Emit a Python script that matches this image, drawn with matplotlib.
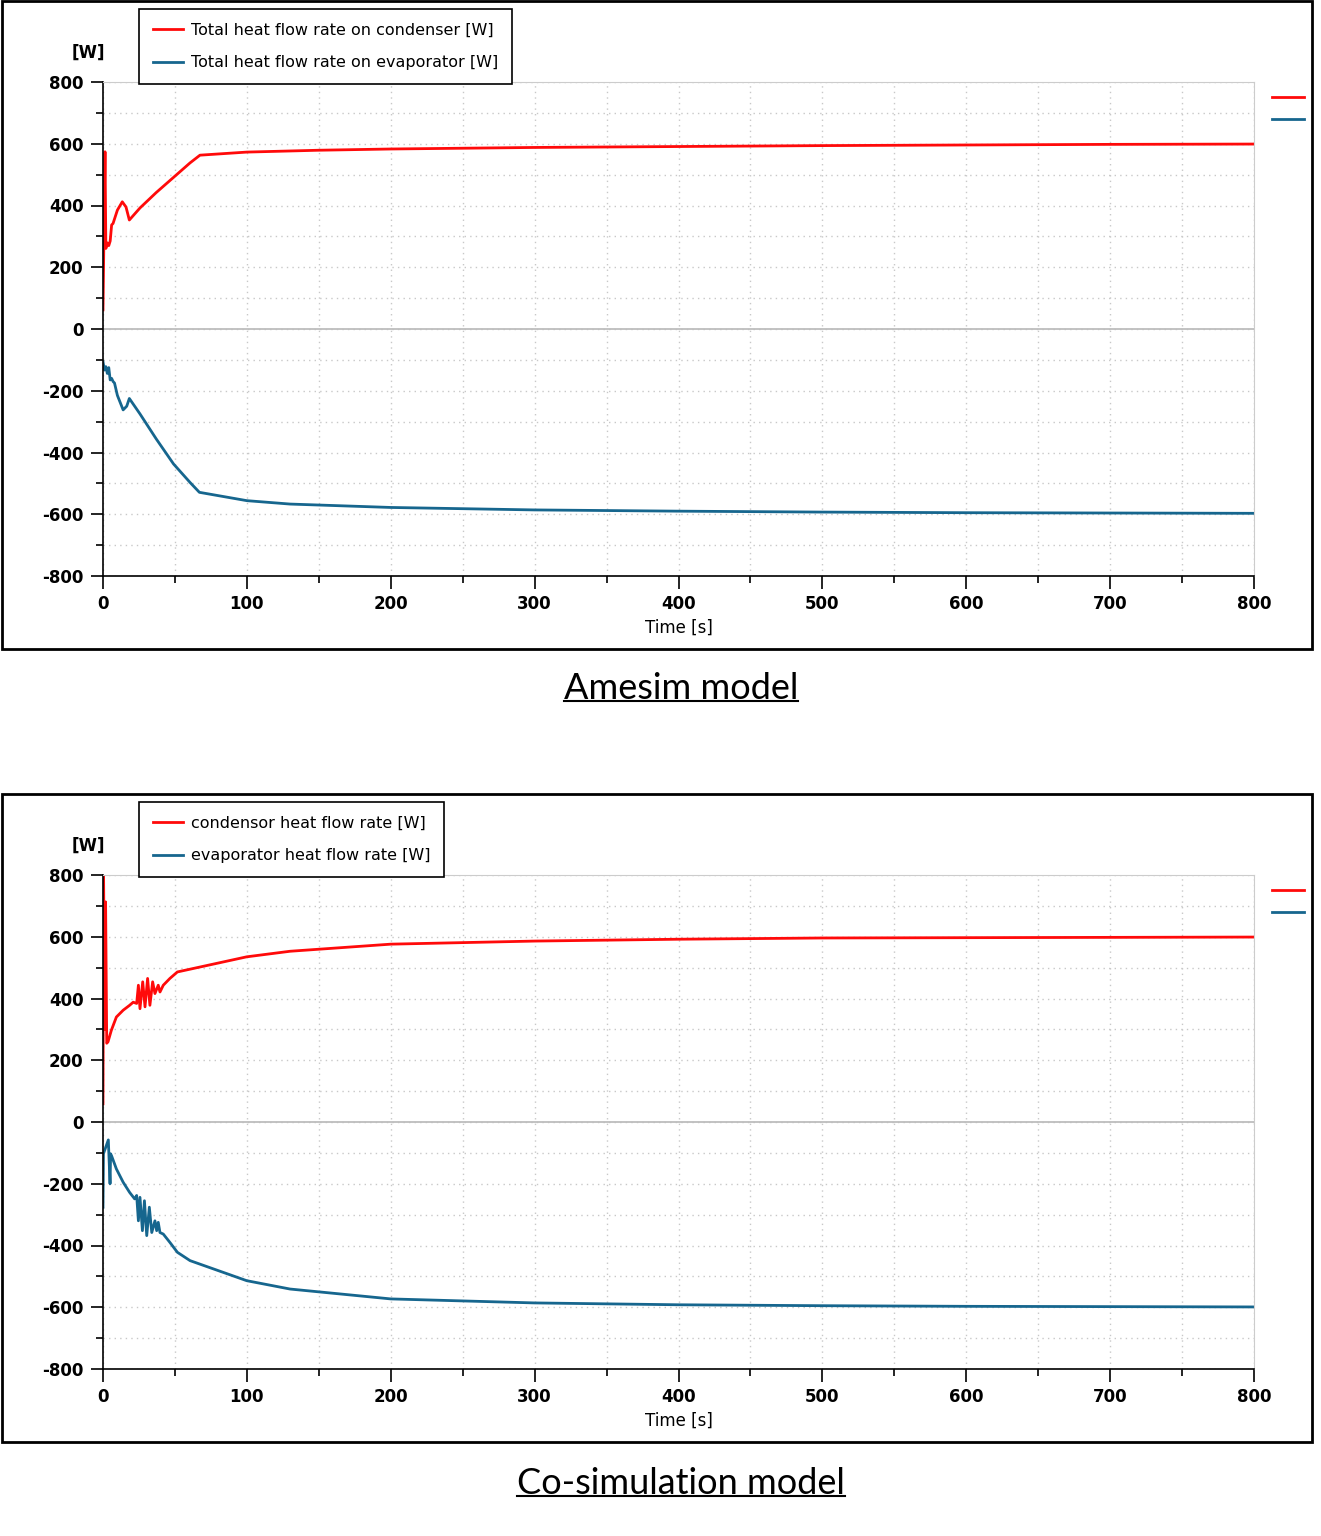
import numpy as np
import matplotlib.pyplot as plt
from matplotlib.lines import Line2D
from matplotlib.patches import Rectangle
from matplotlib.ticker import MultipleLocator

plt.rcParams['font.family'] = ['DejaVu Sans']
plt.rcParams['axes.unicode_minus'] = False

# ---- data ----
# Amesim model
ame_t_cond = [0, 1.4, 2.0, 2.9, 4.0, 5.0, 6.0, 7.0, 10, 13.4, 16, 18.3, 25.7, 37, 49, 60.5, 67.4,
              100, 150, 200, 300, 400, 500, 600, 700, 800]
ame_cond = [62, 574, 261, 279, 270, 285, 337, 342, 385, 412, 395, 353, 392, 442, 491, 538, 563,
            573, 579, 583, 588, 591, 594, 596, 598, 599]
ame_t_evap = [0, 1.0, 2.0, 3.0, 4.0, 5.0, 6.0, 7.0, 8.0, 10, 14, 16.5, 18.3, 25.7, 37, 49, 60.5, 67,
              100, 130, 200, 300, 400, 500, 600, 700, 800]
ame_evap = [-106, -133, -122, -144, -125, -165, -160, -170, -175, -215, -262, -250, -225, -275, -356,
            -437, -497, -529, -556, -567, -578, -586, -590, -593, -595, -596, -597]

# Co-simulation model
cos_t_cond = [0, 0.4, 1.2, 1.8, 2.6, 3.5, 5.8, 9.3, 14, 18.5, 21, 23.4, 24.6, 25.7, 27.6, 29.2,
              31.0, 32.6, 34.5, 36.1, 38.4, 39.6, 41.9, 46.5, 51.7, 99.9, 130, 200, 300, 400,
              500, 600, 700, 800]
cos_cond = [59, 800, 300, 713, 255, 260, 297, 340, 362, 378, 388, 384, 443, 367, 454, 373,
            465, 378, 454, 416, 443, 421, 443, 465, 486, 535, 553, 576, 586, 592,
            596, 597, 598, 599]
cos_t_evap = [0, 0.3, 3.7, 4.9, 5.3, 6.0, 9.3, 14, 18.5, 22, 23.4, 24.6, 25.7, 27.4, 28.8, 30.4,
              32.2, 33.9, 36.1, 37.3, 38.4, 39.6, 41.9, 46.5, 51.7, 60.5, 99.9, 130, 200, 300,
              400, 500, 600, 700, 800]
cos_evap = [-276, -103, -58, -200, -103, -110, -152, -195, -228, -249, -238, -320, -244, -352,
            -255, -368, -276, -358, -320, -352, -325, -358, -363, -390, -422, -449, -514, -541,
            -573, -586, -592, -595, -597, -598, -599]

labels_top = ['Total heat flow rate on condenser [W]', 'Total heat flow rate on evaporator [W]']
labels_bot = ['condensor heat flow rate [W]', 'evaporator heat flow rate [W]']
titles = ['Amesim model', 'Co-simulation model']

RED = '#ff0a0a'
TEAL = '#16668e'
W, H = 1321, 1536


def fx(px):
    return px / W


def fy(py):
    return 1 - py / H


fig = plt.figure(figsize=(W / 100, H / 100), dpi=100)


def draw_panel(top_px, t1, y1, t2, y2, labels, title, title_y):
    # outer frame of the panel
    fig.add_artist(Rectangle((fx(2), fy(top_px + 649)), fx(1310), 648 / H, transform=fig.transFigure,
                             fill=False, edgecolor='black', linewidth=2))
    ax_top = top_px + 82
    ax_bot = top_px + 576
    ax = fig.add_axes([fx(103), fy(ax_bot), fx(1254 - 103), (ax_bot - ax_top) / H])
    l1, = ax.plot(t1, y1, color=RED, lw=2, label=labels[0])
    l2, = ax.plot(t2, y2, color=TEAL, lw=2, label=labels[1])
    ax.set_xlim(0, 800)
    ax.set_ylim(-800, 800)
    ax.xaxis.set_major_locator(MultipleLocator(100))
    ax.xaxis.set_minor_locator(MultipleLocator(50))
    ax.yaxis.set_major_locator(MultipleLocator(200))
    ax.yaxis.set_minor_locator(MultipleLocator(100))
    ax.grid(which='both', color='#c8c8c8', linestyle=(0, (1, 3)), linewidth=1)
    ax.axhline(0, color='#bdbdbd', lw=1.3, zorder=1)
    for s in ['top', 'right']:
        ax.spines[s].set_color('#cccccc')
    for s in ['left', 'bottom']:
        ax.spines[s].set_color('black')
        ax.spines[s].set_linewidth(1.2)
    ax.tick_params(which='major', length=9, width=1.2, labelsize=12, pad=5)
    ax.tick_params(which='minor', length=5, width=1.2)
    for lab in ax.get_xticklabels() + ax.get_yticklabels():
        lab.set_fontweight('bold')
    ax.set_axisbelow(True)

    fig.text(fx(88), fy(top_px + 53), '[W]', ha='center', va='center', fontsize=12, fontweight='bold')
    fig.text(fx(679), fy(top_px + 628), 'Time [s]', ha='center', va='center', fontsize=12)

    leg = fig.legend(handles=[l1, l2], loc='upper left', bbox_to_anchor=(fx(139), fy(top_px + 9)),
                     borderaxespad=0, fontsize=11.5, handlelength=1.9, labelspacing=1.1,
                     borderpad=0.85, handletextpad=0.5, fancybox=False, framealpha=1,
                     edgecolor='black')
    leg.get_frame().set_linewidth(1.2)

    # side markers at the right
    fig.add_artist(Line2D([fx(1272), fx(1304)], [fy(top_px + 97)] * 2, color=RED, lw=2))
    fig.add_artist(Line2D([fx(1272), fx(1304)], [fy(top_px + 119)] * 2, color=TEAL, lw=2))

    txt = fig.text(fx(681), fy(title_y), title, ha='center', va='center', fontsize=26, family='Lato')
    return txt


t_a = draw_panel(0, ame_t_cond, ame_cond, ame_t_evap, ame_evap, labels_top, titles[0], 688)
t_b = draw_panel(793, cos_t_cond, cos_cond, cos_t_evap, cos_evap, labels_bot, titles[1], 1483)

# underline titles
fig.canvas.draw()
inv = fig.transFigure.inverted()
for t in [t_a, t_b]:
    bb = t.get_window_extent().transformed(inv)
    fig.add_artist(Line2D([bb.x0, bb.x1], [bb.y0 + 0.002, bb.y0 + 0.002], color='black', lw=1.5))

fig.savefig('out.png', dpi=100)
